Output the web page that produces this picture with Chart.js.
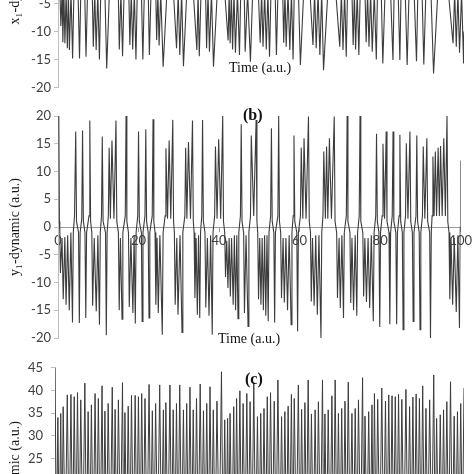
<!DOCTYPE html>
<html>
<head>
<meta charset="utf-8">
<script src="https://cdn.jsdelivr.net/npm/chart.js@4.4.1/dist/chart.umd.min.js"></script>
<style>
  html, body { margin: 0; padding: 0; background: #fff; }
  body { width: 474px; height: 474px; position: relative; overflow: hidden; }
  canvas { position: absolute; left: 0; }
  .lbl { position: absolute; font-family: "Liberation Serif", "Times New Roman", serif; color: #111; line-height: 1; white-space: nowrap; }
</style>
</head>
<body>
<canvas id="panelA" width="474" height="260" style="top:-150px"></canvas>
<canvas id="panelB" width="474" height="474" style="top:0"></canvas>
<canvas id="panelC" width="474" height="260" style="top:340px"></canvas>
<div class="lbl" style="left:229px; top:61px; font-size:14px">Time (a.u.)</div>
<div class="lbl" style="left:218px; top:332px; font-size:14px">Time (a.u.)</div>
<div class="lbl" style="left:243px; top:107px; font-size:16px; font-weight:bold">(b)</div>
<div class="lbl" style="left:245px; top:371px; font-size:16px; font-weight:bold">(c)</div>
<script>
// (a) x1 dynamic: turning points (only the troughs are inside the frame)
const xTime = [0, 0.7, 1.0, 1.2, 1.45, 1.7, 2.0, 2.3, 2.55, 2.8, 3.2, 3.6,
  4.4, 5.3, 6.1, 6.9, 7.9, 8.7, 9.05, 9.4, 9.8, 10.2, 11.0, 12.0,
  13.0, 14.4, 15.1, 15.5, 15.9, 16.9, 17.7, 18.05, 18.4, 18.8, 19.2, 20.0,
  20.9, 21.8, 22.5, 23.6, 24.3, 24.6, 24.9, 25.3, 25.9, 27.6, 29.2, 29.6,
  30.0, 30.45, 30.9, 32.4, 34.2, 34.5, 34.8, 35.9, 36.6, 36.95, 37.3, 37.8,
  38.3, 40.0, 41.9, 42.15, 42.4, 42.7, 43.0, 43.35, 43.7, 44.2, 44.7, 45.5,
  46.1, 46.7, 47.4, 48.6, 49.8, 50.15, 50.5, 50.9, 51.3, 51.7, 52.1, 53.0,
  53.8, 54.8, 55.6, 55.9, 56.2, 56.65, 57.1, 57.5, 57.9, 58.6, 59.7, 61.2,
  62.8, 63.2, 63.6, 64.05, 64.5, 64.95, 65.4, 67.3, 69.4, 69.8, 70.2, 70.6,
  71.0, 71.8, 72.7, 73.0, 73.3, 73.7, 74.1, 75.0, 75.9, 76.25, 76.6, 77.0,
  77.4, 77.9, 78.4, 79.1, 80.0, 81.2, 82.5, 83.2, 84.2, 84.9, 86.0, 87.0,
  88.3, 89.1, 90.1, 91.2, 92.5, 94.5, 97.3, 97.7, 98.1, 98.5, 98.9, 99.4,
  99.9, 100];
const xValue = [10, -9, -3, -11.9, -3, -12.1, -3, -13, -3, -13.3, -3, -14.8,
  15, -14.8, 15, -14.5, 16, -12.7, -3, -13.3, -3, -15, 14, -16.6,
  4, 16, -13.2, -3, -14.4, 16, -12.4, -3, -13.2, -3, -15, 15,
  -15, 15, -14.2, 16, -11.5, -3, -12.5, -3, -16.3, 8, -13, -3,
  -14.2, -3, -16.2, 8, -13.3, -3, -14.4, 15, -13, -3, -13.6, -3,
  -16.3, 8, -11.6, -3, -12.1, -3, -13.2, -3, -13.8, -3, -14.2, 15,
  -13.6, -3, -15.4, 12, -12, -3, -12.7, -3, -13.2, -3, -14.5, 15,
  -14.2, 16, -12, -3, -12.7, -3, -13.3, -3, -15, 14, -16, 8,
  -12.4, -3, -13, -3, -14.2, -3, -16.9, 8, -12.7, -3, -13.3, -3,
  -14.5, 16, -12.4, -3, -13.2, -3, -14.2, 16, -11.9, -3, -12.7, -3,
  -13.6, -3, -15, 14, -15.7, 12, -15.1, 14, -15.1, 14, -16, 12,
  -15.3, 14, -15.9, 12, -17.5, 10, -12.1, -3, -12.7, -3, -13.8, -3,
  -15.7, -10];

// (b) y1 dynamic: peaks and troughs
const yTime = [0.2, 0.6, 1.0, 1.3, 1.7, 2.0, 2.4, 2.8, 3.2, 3.6,
  4.1, 4.4, 5.3, 6.1, 6.9, 7.9, 8.6, 9.0, 9.5, 9.9,
  10.3, 11.0, 12.0, 12.7, 13.0, 13.4, 13.9, 14.4, 15.2, 15.5,
  15.9, 16.9, 17.7, 18.1, 18.6, 18.9, 19.2, 20.0, 20.9, 21.8,
  22.6, 23.6, 24.3, 24.6, 24.9, 25.3, 25.9, 26.8, 27.2, 27.6,
  28.0, 28.5, 29.1, 29.5, 29.8, 30.3, 30.8, 31.7, 32.0, 32.4,
  32.9, 33.4, 34.0, 34.3, 34.6, 34.9, 35.2, 35.9, 36.7, 37.1,
  37.5, 37.9, 38.3, 39.1, 39.5, 39.9, 40.4, 40.9, 41.6, 41.9,
  42.2, 42.5, 42.8, 43.1, 43.5, 43.8, 44.1, 44.4, 44.7, 45.5,
  46.3, 46.7, 47.2, 48.0, 48.6, 49.2, 49.8, 50.1, 50.4, 50.7,
  51.0, 51.3, 51.6, 51.9, 52.2, 53.0, 53.8, 54.8, 55.5, 55.9,
  56.2, 56.6, 57.0, 57.4, 57.9, 58.6, 59.5, 60.4, 60.8, 61.1,
  61.6, 62.2, 62.9, 63.2, 63.6, 64.0, 64.4, 64.8, 65.3, 66.0,
  66.4, 66.7, 67.0, 67.4, 67.9, 68.6, 69.4, 69.8, 70.1, 70.5,
  70.9, 71.8, 72.7, 73.0, 73.4, 73.8, 74.2, 75.0, 75.9, 76.2,
  76.6, 77.0, 77.4, 77.8, 78.3, 79.1, 79.9, 80.7, 81.1, 81.5,
  82.4, 83.2, 84.1, 84.9, 85.7, 86.5, 86.9, 87.4, 88.2, 89.1,
  89.9, 90.7, 91.1, 91.6, 92.5, 93.1, 93.4, 93.7, 94.0, 94.4,
  94.7, 95.0, 95.4, 95.8, 96.2, 96.6, 97.3, 97.6, 98.0, 98.4,
  98.9, 99.3, 99.7, 100];
const yValue = [20, -8.3, -2, -13, -1.8, -14, -1.5, -15, -1, -17.2,
  2, 17.2, -17.3, 17.4, -16.4, 19.2, -14.2, -2, -15.2, -1.5,
  -17.6, 16.3, -19.5, 14.3, 1.5, 15.6, 1.5, 19.2, -15, -2,
  -16.6, 20, -14.4, -2, -15.5, -1.5, -17.4, 17.2, -17, 17.6,
  -16.4, 19.4, -14, -2, -15.5, -1.5, -19.4, 14.2, 1.5, 15.6,
  1.5, 19.3, -14, -2, -15.8, -1.5, -19, 14.3, 1.5, 15.3,
  1.5, 19.2, -12.8, -2, -15.8, -1.5, -16.4, 19.3, -14.5, -2,
  -16, -1.5, -19.4, 14.5, 1.5, 15.8, 1.5, 20, -9, -2.5,
  -11, -2, -12.5, -2, -14, -1.5, -15, -1.5, -16.5, 18.5,
  -15.5, -1.5, -17.9, 16.5, 2, 19.3, -13, -2, -14, -2,
  -15, -1.5, -16, -1.5, -17, 17.8, -17.2, 20, -12.8, -2,
  -13.6, -2, -15, -1.5, -17.6, 16.5, -18.8, 14.3, 1.5, 16,
  1.5, 19.9, -13.4, -2, -14.2, -1.5, -15.8, -1.5, -20, 13.6,
  1.5, 14.5, 1.5, 16, 1.5, 19.9, -12.8, -2, -14.6, -1.5,
  -16.4, 20, -13.7, -2, -15, -1.5, -16, 20, -12.5, -2,
  -13.5, -2, -14.6, -1.5, -17, 16.8, -18, 15, 1.5, 17.2,
  -17.5, 17.2, -17.5, 16.6, -18.5, 15.1, 1.5, 17.2, -17, 16.5,
  -18.5, 14.5, 1.5, 16, -20, 12.7, 2, 13.6, 2, 14.3,
  2, 14.6, 2, 16, 2, 20, -13, -2, -14, -2,
  -15.3, -1.5, -18.2, 12];
// (b) the short near-zero steps where the signal changes lobe
const yCrossTime = [0.35, 0.45, 3.8, 4.6, 5.1, 5.5, 5.9, 6.3, 6.7, 7.1,
  7.7, 8.1, 8.4, 10.5, 10.8, 11.2, 11.8, 12.2, 12.5, 14.6,
  15.0, 16.1, 16.7, 17.1, 17.5, 19.4, 19.8, 20.2, 20.7, 21.1,
  21.6, 22.0, 22.4, 22.8, 23.4, 23.8, 24.1, 26.1, 26.6, 28.7,
  28.9, 31.0, 31.5, 33.6, 33.8, 35.4, 35.7, 36.1, 36.5, 38.5,
  38.9, 41.1, 41.4, 44.9, 45.3, 45.7, 46.1, 47.4, 47.8, 49.4,
  49.6, 52.4, 52.8, 53.2, 53.6, 54.0, 54.6, 55.0, 55.3, 58.1,
  58.4, 58.8, 59.3, 59.7, 60.2, 62.4, 62.7, 65.5, 65.8, 68.8,
  69.2, 71.1, 71.6, 72.0, 72.5, 74.4, 74.8, 75.2, 75.7, 78.5,
  78.9, 79.3, 79.7, 80.1, 80.5, 81.7, 82.2, 82.6, 83.0, 83.4,
  83.9, 84.3, 84.7, 85.1, 85.5, 85.9, 86.3, 87.6, 88.0, 88.4,
  88.9, 89.3, 89.7, 90.1, 90.5, 91.8, 92.3, 92.7, 92.9, 96.8,
  97.1, 99.9];
const yCrossValue = [1, -1, -1, 1, -1, -1, 1.5, 1, -1, -1,
  2, 1, -1, -1, 2, 1, -1, -1, 2, 1,
  -1, -1, 2, 1, -1, -1, 2, 1, -1, -1,
  2, 1, -1, -1, 2, 1, -1, -1, 2, 1,
  -1, -1, 2, 1, -1, -1, 2, 1, -1, -1,
  2, 1, -1, -1, 2, 1, -1, -1, 2, 1,
  -1, -1, 2, 1, -1, -1, 2, 1, -1, -1,
  2, 1, -1, -1, 2, 1, -1, -1, 2, 1,
  -1, -1, 2, 1, -1, -1, 2, 1, -1, -1,
  2, 1, -1, -1, 2, 1, -1, -1, 2, 1,
  -1, -1, 2, 1, -1, -1, 2, 1, -1, -1,
  2, 1, -1, -1, 2, 1, -1, -1, 2, 1,
  -1, 0];

// (c) z1 dynamic: peaks, and the lows between them (below the frame)
const zPeakTime = [0.0, 0.7, 1.4, 2.0, 3.0, 3.9, 4.7, 5.5, 6.3, 7.3,
  8.1, 8.9, 9.8, 10.6, 11.5, 12.2, 13.0, 14.0, 14.7, 15.5,
  16.5, 17.1, 17.9, 18.7, 19.6, 20.4, 21.2, 22.0, 23.0, 23.8,
  24.6, 25.6, 26.5, 27.1, 28.1, 28.9, 29.7, 30.5, 31.4, 32.2,
  33.0, 33.8, 34.6, 35.5, 36.3, 37.1, 37.9, 38.7, 39.6, 40.7,
  41.5, 42.2, 42.8, 43.7, 44.4, 45.2, 46.0, 46.9, 47.7, 48.6,
  49.5, 50.3, 51.1, 51.9, 52.7, 53.6, 54.5, 55.4, 56.2, 57.0,
  57.8, 58.5, 59.5, 60.3, 61.1, 61.9, 62.7, 63.6, 64.4, 65.4,
  66.0, 66.8, 67.7, 68.5, 69.3, 70.1, 70.9, 71.7, 72.6, 73.4,
  74.2, 75.2, 75.8, 76.7, 77.5, 78.1, 78.9, 79.9, 80.8, 81.6,
  82.4, 83.2, 84.0, 84.8, 85.8, 86.7, 87.5, 88.3, 89.1, 89.9,
  90.7, 91.6, 92.6, 93.3, 94.2, 95.0, 95.8, 96.7, 97.6, 98.4,
  99.2, 100.0];
const zPeak = [45.0, 34.0, 34.9, 36.4, 39.0, 39.1, 38.6, 39.5, 37.9, 41.6,
  35.3, 36.8, 39.3, 38.2, 41.0, 35.4, 37.1, 40.7, 35.8, 37.9,
  41.7, 35.1, 36.5, 38.9, 38.9, 38.6, 39.3, 38.2, 41.3, 35.5,
  37.1, 41.2, 35.7, 37.3, 41.2, 35.7, 37.1, 41.2, 35.7, 37.1,
  40.7, 35.7, 38.2, 41.4, 35.5, 37.1, 40.8, 35.7, 37.6, 44.1,
  33.5, 33.8, 34.9, 36.4, 38.2, 39.9, 37.1, 39.3, 37.5, 41.7,
  34.2, 34.9, 36.0, 38.6, 39.5, 37.6, 42.3, 34.2, 35.3, 36.5,
  39.1, 38.2, 41.2, 35.8, 37.3, 42.3, 34.8, 35.7, 37.5, 42.3,
  34.8, 35.7, 38.8, 42.3, 34.9, 36.0, 37.6, 41.8, 34.9, 36.0,
  37.9, 42.8, 34.3, 35.3, 36.8, 39.3, 38.0, 40.5, 37.6, 39.0,
  38.8, 38.6, 39.1, 38.0, 40.2, 36.4, 38.5, 39.2, 38.2, 41.0,
  36.0, 37.9, 43.4, 33.8, 34.6, 35.7, 37.5, 41.9, 34.3, 35.3,
  37.1, 40.5];
const zLowTime = [0.35, 1.05, 1.7, 2.5, 3.45, 4.3, 5.1, 5.9, 6.8, 7.7,
  8.5, 9.35, 10.2, 11.05, 11.85, 12.6, 13.5, 14.35, 15.1, 16.0,
  16.8, 17.5, 18.3, 19.15, 20.0, 20.8, 21.6, 22.5, 23.4, 24.2,
  25.1, 26.05, 26.8, 27.6, 28.5, 29.3, 30.1, 30.95, 31.8, 32.6,
  33.4, 34.2, 35.05, 35.9, 36.7, 37.5, 38.3, 39.15, 40.15, 41.1,
  41.85, 42.5, 43.25, 44.05, 44.8, 45.6, 46.45, 47.3, 48.15, 49.05,
  49.9, 50.7, 51.5, 52.3, 53.15, 54.05, 54.95, 55.8, 56.6, 57.4,
  58.15, 59.0, 59.9, 60.7, 61.5, 62.3, 63.15, 64.0, 64.9, 65.7,
  66.4, 67.25, 68.1, 68.9, 69.7, 70.5, 71.3, 72.15, 73.0, 73.8,
  74.7, 75.5, 76.25, 77.1, 77.8, 78.5, 79.4, 80.35, 81.2, 82.0,
  82.8, 83.6, 84.4, 85.3, 86.25, 87.1, 87.9, 88.7, 89.5, 90.3,
  91.15, 92.1, 92.95, 93.75, 94.6, 95.4, 96.25, 97.15, 98.0, 98.8,
  99.6];
const zLowLevel = 5;

const timeTicks = [0, 20, 40, 60, 80, 100];

const LINE = "#3c3c3c";
const AXIS = "#bfbfbf";
const TICKFONT = { family: "Lato, 'Open Sans', sans-serif", size: 13 };
const TITLEFONT = { family: "'Liberation Serif', 'Times New Roman', serif", size: 14 };

function toPoints(ts, vs) {
  return ts.map((t, i) => ({ x: t, y: vs[i] }));
}

// merge the lobe-change steps into the y1 series, in time order
const yPoints = toPoints(yTime, yValue).concat(toPoints(yCrossTime, yCrossValue));
yPoints.sort((a, b) => a.x - b.x);

let zPoints = [];
for (let i = 0; i < zPeakTime.length; i++) {
  zPoints.push({ x: zPeakTime[i], y: zPeak[i] });
  if (i < zLowTime.length) zPoints.push({ x: zLowTime[i], y: zLowLevel });
}

function makePanel(id, points, o) {
  return new Chart(document.getElementById(id), {
    type: "line",
    data: {
      datasets: [{
        data: points,
        borderColor: LINE,
        borderWidth: o.lw,
        pointRadius: 0,
        tension: 0,
        fill: false
      }]
    },
    options: {
      responsive: false,
      animation: false,
      events: [],
      parsing: false,
      layout: { padding: o.pad },
      plugins: { legend: { display: false }, tooltip: { enabled: false } },
      scales: {
        x: o.x,
        y: {
          type: "linear",
          min: o.min,
          max: o.max,
          afterFit: (s) => { s.width = o.axisWidth; },
          ticks: { stepSize: 5, font: TICKFONT, color: "#404040", padding: o.tickPad },
          grid: { drawOnChartArea: false, drawTicks: true, tickLength: 4, color: AXIS },
          border: { color: AXIS },
          title: { display: true, text: o.title, font: TITLEFONT, color: "#1a1a1a", padding: { top: 7, bottom: 0 } }
        }
      }
    }
  });
}

const hiddenX = { type: "linear", min: 0, max: 100, display: false };

makePanel("panelA", toPoints(xTime, xValue), {
  pad: { left: 0, top: 13.5, right: 10, bottom: 22.5 },
  min: -20, max: 20, axisWidth: 58, tickPad: 3, lw: 1.1,
  title: "x₁-dynamic (a.u.)",
  x: hiddenX
});

makePanel("panelB", yPoints, {
  pad: { left: 0, top: 116, right: 10, bottom: 136 },
  min: -20, max: 20, axisWidth: 58, tickPad: 3, lw: 1.1,
  title: "y₁-dynamic (a.u.)",
  x: {
    type: "linear", min: 0, max: 100,
    position: { y: 0 },
    z: 1,
    afterBuildTicks: (s) => { s.ticks = timeTicks.map(v => ({ value: v })); },
    ticks: { font: TICKFONT, color: "#404040", padding: 2, maxRotation: 0 },
    grid: { drawOnChartArea: false, drawTicks: true, tickLength: 4, color: "#9a9a9a" },
    border: { color: "#9a9a9a" }
  }
});

makePanel("panelC", zPoints, {
  pad: { left: 0, top: 27.7, right: 10, bottom: 28.4 },
  min: 0, max: 45, axisWidth: 55, tickPad: 8, lw: 1,
  title: "z₁-dynamic (a.u.)",
  x: hiddenX
});
</script>
</body>
</html>
